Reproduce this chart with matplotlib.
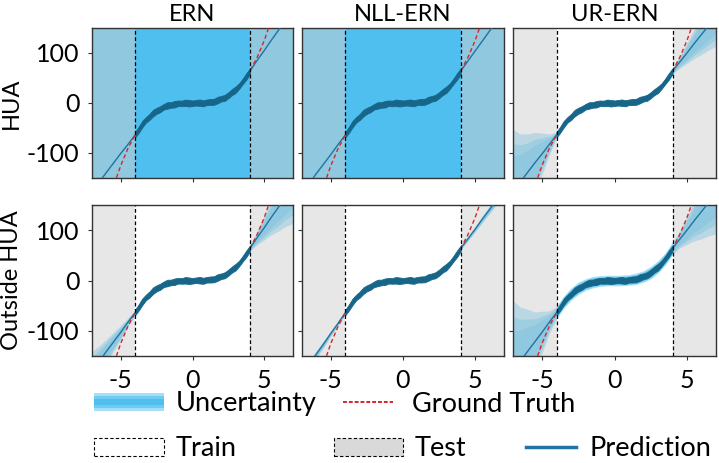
import numpy as np
import matplotlib
matplotlib.use('Agg')
import matplotlib.pyplot as plt
from matplotlib.patches import Rectangle
from matplotlib.lines import Line2D
from matplotlib.legend_handler import HandlerBase

plt.rcParams['font.family'] = ['Lato', 'DejaVu Sans']
plt.rcParams['axes.unicode_minus'] = False

# ---------------- data ----------------
columns = ['ERN', 'NLL-ERN', 'UR-ERN']
rows = ['HUA', 'Outside HUA']
xticks = [-5, 0, 5]
xtick_labels = ['-5', '0', '5']
yticks = [-100, 0, 100]
ytick_labels = ['-100', '0', '100']
train_range = [-4, 4]

# ground truth (y = x^3)
gt_x = [-6, -5.5, -5, -4.5, -4, -3.5, -3, -2.5, -2, -1.5, -1, -0.5, 0,
        0.5, 1, 1.5, 2, 2.5, 3, 3.5, 4, 4.5, 5, 5.5, 6]
gt_y = [-216, -166.4, -125, -91.1, -64, -42.9, -27, -15.6, -8, -3.4, -1, -0.1, 0,
        0.1, 1, 3.4, 8, 15.6, 27, 42.9, 64, 91.1, 125, 166.4, 216]

# training data cloud (upper / lower envelope of the noisy samples)
data_x = [-4, -3.75, -3.5, -3.25, -3, -2.75, -2.5, -2.25, -2, -1.75, -1.5, -1.25, -1,
          -0.75, -0.5, -0.25, 0, 0.25, 0.5, 0.75, 1, 1.25, 1.5, 1.75, 2, 2.25, 2.5,
          2.75, 3, 3.25, 3.5, 3.75, 4]
data_hi = [-58, -47.7, -35.9, -28.3, -22, -13.8, -9.6, -6.4, -2, 1.6, 1.6, 4.0, 5,
           4.6, 6.9, 6, 5, 6, 7.1, 5.4, 7, 8, 8.4, 12.4, 14, 16.4, 21.6,
           27.8, 33, 39.3, 48.9, 59.7, 69]
data_lo = [-69, -59.7, -48.9, -39.3, -34, -26.8, -21.6, -18.4, -13, -11.4, -9.4, -9.0, -6,
           -6.4, -6.1, -7, -6, -5, -5.9, -6.6, -4, -4, -3.6, -0.6, 3, 4.4, 9.6,
           15.8, 20, 28.3, 37.9, 46.7, 58]

# prediction grid
pred_x = [-7, -6.5, -6, -5.5, -5, -4.5, -4, -3.5, -3, -2.5, -2, -1.5, -1, -0.5, 0,
          0.5, 1, 1.5, 2, 2.5, 3, 3.5, 4, 4.5, 5, 5.5, 6, 6.5, 7]
pred_train = [-64, -42.9, -27, -15.6, -8, -3.4, -1, -0.1, 0,
              0.1, 1, 3.4, 8, 15.6, 27, 42.9, 64]
# extrapolated tails: x = -7 .. -4.5 and x = 4.5 .. 7
pred_left = {
    (0, 0): [-176, -158, -139, -120, -101, -83],
    (0, 1): [-180, -161, -141, -122, -103, -83],
    (0, 2): [-177, -158, -139, -120, -102, -83],
    (1, 0): [-180, -161, -141, -122, -103, -83],
    (1, 1): [-187, -167, -146, -126, -105, -85],
    (1, 2): [-180, -161, -141, -122, -103, -83],
}
pred_right = {
    (0, 0): [85, 105, 126, 146, 167, 187],
    (0, 1): [84, 104, 124, 144, 164, 184],
    (0, 2): [82, 100, 119, 137, 155, 173],
    (1, 0): [85, 105, 126, 146, 167, 187],
    (1, 1): [83, 102, 122, 141, 160, 179],
    (1, 2): [82, 100, 119, 137, 155, 173],
}
# uncertainty scale on the same grid as pred_x
unc_sigma = {
    (0, 0): [1000, 1000, 1000, 1000, 1000, 1000, 1000, 1000, 1000, 1000, 1000, 1000, 1000, 1000, 1000,
             1000, 1000, 1000, 1000, 1000, 1000, 1000, 1000, 1000, 1000, 1000, 1000, 1000, 1000],
    (0, 1): [1000, 1000, 1000, 1000, 1000, 1000, 1000, 1000, 1000, 1000, 1000, 1000, 1000, 1000, 1000,
             1000, 1000, 1000, 1000, 1000, 1000, 1000, 1000, 1000, 1000, 1000, 1000, 1000, 1000],
    (0, 2): [71, 55, 44, 35, 24, 12, 3.5, 3, 3, 3, 3, 3, 3, 3, 3,
             3, 3, 3, 3, 3, 3, 3, 3.5, 7, 12, 17, 23, 28, 34],
    (1, 0): [22, 18, 14, 11, 8, 5, 3, 2.5, 2.5, 2.5, 2.5, 2.5, 2.5, 2.5, 2.5,
             2.5, 2.5, 2.5, 2.5, 2.5, 2.5, 2.5, 3, 8, 14, 20, 27, 34, 42],
    (1, 1): [6, 5, 4.5, 4, 3, 2.5, 2, 2, 2, 2, 2, 2, 2, 2, 2,
             2, 2, 2, 2, 2, 2, 2, 2, 2.5, 3, 4, 4.5, 5, 6],
    (1, 2): [80, 62, 48, 34, 24, 13, 7, 7, 7, 7, 6.5, 6.5, 6, 6, 6,
             6, 6, 6.5, 6.5, 7, 7, 7, 7, 10, 16, 23, 31, 38, 46],
}
band_levels = [1.0, 1.35, 1.75]

# ---------------- style ----------------
band_color = '#1EAFEB'
band_alpha = 0.4
test_color = '#D1D1D1'
test_alpha = 0.5
data_color = '#17668A'
pred_color = '#1F74A0'
gt_color = '#D62728'
spine_color = '#333333'

W, H = 719, 463
fig = plt.figure(figsize=(W / 100, H / 100), dpi=100)

col_left = [92, 302, 513]
col_w = [201, 202, 203]
row_top = [28, 205]
row_h = [150, 151]

for r in range(2):
    for c in range(3):
        ax = fig.add_axes([col_left[c] / W, 1 - (row_top[r] + row_h[r]) / H,
                           col_w[c] / W, row_h[r] / H])
        pred = pred_left[(r, c)] + pred_train + pred_right[(r, c)]
        pred_a = np.array(pred, dtype=float)
        sig = np.array(unc_sigma[(r, c)], dtype=float)
        for k in band_levels[::-1]:
            ax.fill_between(pred_x, pred_a - k * sig, pred_a + k * sig,
                            color=band_color, alpha=band_alpha, lw=0, zorder=1)
        ax.axvspan(-7, train_range[0], color=test_color, alpha=test_alpha, lw=0, zorder=2)
        ax.axvspan(train_range[1], 7, color=test_color, alpha=test_alpha, lw=0, zorder=2)
        ax.plot(pred_x, pred, color=pred_color, lw=1.0, zorder=3)
        ax.plot(gt_x, gt_y, color=gt_color, lw=1.0, ls=(0, (3, 2)), zorder=4)
        ax.fill_between(data_x, data_lo, data_hi, color=data_color, lw=0.6,
                        edgecolor=data_color, zorder=5)
        for xv in train_range:
            ax.axvline(xv, color='black', lw=0.9, ls=(0, (3, 2)), zorder=6)
        ax.set_xlim(-7, 7)
        ax.set_ylim(-150, 150)
        ax.set_xticks(xticks)
        ax.set_yticks(yticks)
        if r == 1:
            ax.set_xticklabels(xtick_labels, fontsize=18)
        else:
            ax.set_xticklabels([])
        if c == 0:
            ax.set_yticklabels(ytick_labels, fontsize=18)
            ax.set_ylabel(rows[r], fontsize=17)
            ax.yaxis.set_label_coords(-0.35, 0.5)
        else:
            ax.set_yticklabels([])
        if r == 0:
            ax.set_title(columns[c], fontsize=17, pad=5)
        ax.tick_params(direction='out', length=3, width=0.8, color=spine_color, pad=6)
        for s in ax.spines.values():
            s.set_color(spine_color)
            s.set_linewidth(1.0)


class UncHandler(HandlerBase):
    def create_artists(self, legend, orig_handle, xdescent, ydescent, width, height,
                       fontsize, trans):
        arts = []
        for frac in [1.0, 0.65, 0.3]:
            h = height * frac
            arts.append(Rectangle((-xdescent, -ydescent + (height - h) / 2), width, h,
                                  facecolor=band_color, alpha=band_alpha,
                                  edgecolor='none', transform=trans))
        return arts


unc_handle = Rectangle((0, 0), 1, 1)
gt_handle = Line2D([], [], color=gt_color, lw=1.4, ls=(0, (2, 1)))
train_handle = Rectangle((0, 0), 1, 1, facecolor='white', edgecolor='black', ls=(0, (3, 2)), lw=0.8)
test_handle = Rectangle((0, 0), 1, 1, facecolor='#D9D9D9', edgecolor='black', ls=(0, (3, 2)), lw=0.8)
pred_handle = Line2D([], [], color=pred_color, lw=2.5)

FS = 19.5
em = FS * 100 / 72
legend_items = [
    (unc_handle, 'Uncertainty', 94, 404, 70, 12, {Rectangle: UncHandler()}),
    (gt_handle, 'Ground Truth', 343, 404, 50, 19, None),
    (train_handle, 'Train', 94, 449, 70, 12, None),
    (test_handle, 'Test', 334, 449, 69, 12, None),
    (pred_handle, 'Prediction', 526, 449, 50, 14, None),
]
for h, lab, px, py, hl, htp, hm in legend_items:
    kw = dict(handles=[h], labels=[lab], loc='center left',
              bbox_to_anchor=(px / W, 1 - py / H), frameon=False, borderpad=0,
              borderaxespad=0, handlelength=hl / em, handletextpad=htp / em, fontsize=FS,
              handleheight=18 / em)
    if hm is not None:
        kw['handler_map'] = hm
    fig.legend(**kw)

fig.savefig('out.png', dpi=100)
